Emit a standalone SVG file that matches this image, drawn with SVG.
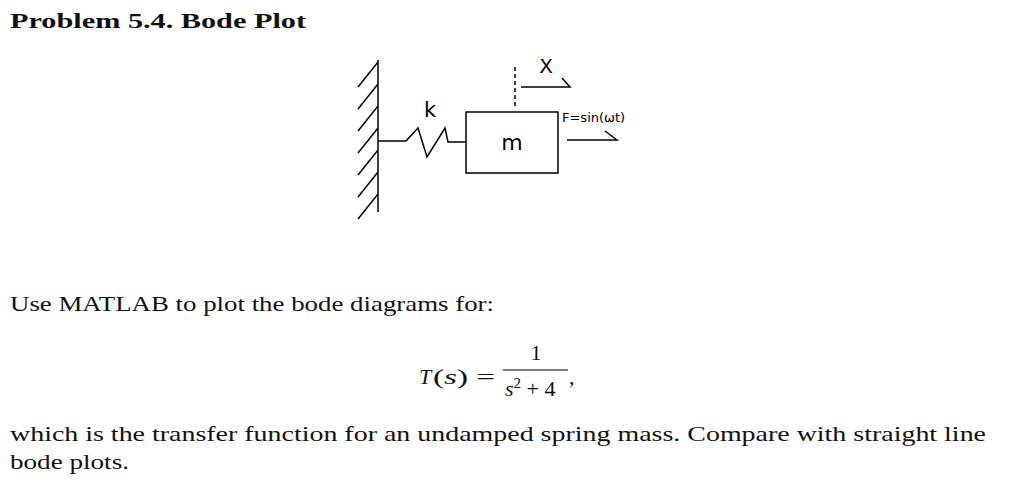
<svg xmlns="http://www.w3.org/2000/svg" width="1024" height="483" viewBox="0 0 1024 483">
<style>
.s{stroke:#000;stroke-width:1.5;fill:none}
.t{font-family:"Liberation Serif",serif;fill:#111;font-size:22px}
.d{font-family:"DejaVu Sans",sans-serif;fill:#000}
</style>
<rect width="1024" height="483" fill="#fff"/>
<text x="10" y="28" class="t" font-weight="bold" font-size="23" textLength="296" lengthAdjust="spacingAndGlyphs">Problem 5.4. Bode Plot</text>
<g id="wall">
<path class="s" d="M378,60V212M378,62L358,87M378,84L358,109M378,106L358,131M378,128L358,153M378,150L358,175M378,172L358,197M378,194L358,219"/>
</g>
<g id="connectors">
<path class="s" d="M378,141H406L418,128L427,157L445,128L448,142H466"/>
<path class="s" d="M515,67V107" stroke-dasharray="4,3"/>
<path class="s" d="M521,87H570L562,78"/>
<path class="s" d="M567,140H617L605,131"/>
</g>
<g id="mass">
<rect x="466" y="112" width="92" height="61" class="s"/>
<text x="512" y="150" class="d" font-size="22" text-anchor="middle">m</text>
</g>
<text x="430" y="117" class="d" font-size="21" text-anchor="middle">k</text>
<text x="546" y="73" class="d" font-size="20" text-anchor="middle">X</text>
<text x="562" y="122" class="d" font-size="13">F=sin(ωt)</text>
<text x="10" y="311" class="t" textLength="484" lengthAdjust="spacingAndGlyphs">Use MATLAB to plot the bode diagrams for:</text>
<text x="419" y="384" class="t" font-style="italic">T</text>
<text x="433" y="384" class="t" textLength="62" lengthAdjust="spacingAndGlyphs">(<tspan font-style="italic">s</tspan>) =</text>
<text x="536" y="360" class="t" text-anchor="middle">1</text>
<line x1="503" y1="370" x2="568" y2="370" stroke="#000" stroke-width="1.2"/>
<text x="505" y="396" class="t"><tspan font-style="italic">s</tspan><tspan font-size="15" dy="-8">2</tspan><tspan dy="8"> + 4</tspan></text>
<text x="569" y="384" class="t">,</text>
<text x="10" y="441" class="t" textLength="976" lengthAdjust="spacingAndGlyphs">which is the transfer function for an undamped spring mass.  Compare with straight line</text>
<text x="10" y="469" class="t" textLength="119" lengthAdjust="spacingAndGlyphs">bode plots.</text>
</svg>
